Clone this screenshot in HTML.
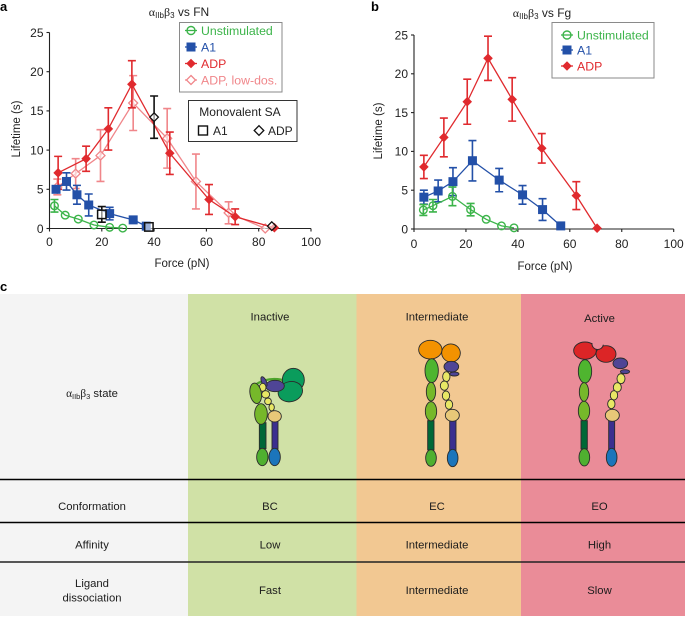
<!DOCTYPE html>
<html lang="en">
<head>
<meta charset="utf-8">
<title>Integrin lifetime charts</title>
<style>
html,body{margin:0;padding:0;background:#fff;width:685px;height:617px;overflow:hidden}
svg{display:block;font-family:"Liberation Sans",sans-serif;filter:blur(.35px)}
text{fill:#222}
.tick{font-size:12px}
.axt{font-size:11.5px}
.leg{font-size:12.3px}
.tb{font-size:11.3px;text-anchor:middle;dominant-baseline:central;fill:#1c1c1c}
.p{font-size:13px;font-weight:bold;fill:#000}
.s{stroke:#2b2b2b;stroke-width:2.7}
</style>
</head>
<body>
<svg id="fig" xmlns="http://www.w3.org/2000/svg" width="685" height="617" viewBox="0 0 685 617">
  <text class="p" x="0" y="11">a</text>
  <text class="p" x="371" y="11">b</text>
  <text class="p" x="0" y="291">c</text>

  <g id="table">
    <rect x="0" y="294" width="188" height="322" fill="#f4f4f4"/>
    <rect x="188" y="294" width="168.500" height="322" fill="#d0e1a6"/>
    <rect x="356.500" y="294" width="164.500" height="322" fill="#f2c892"/>
    <rect x="521" y="294" width="164" height="322" fill="#ea8c98"/>
    <line x1="0" x2="685" y1="479.500" y2="479.500" stroke="#000" stroke-width="1.500"/>
    <line x1="0" x2="685" y1="522.500" y2="522.500" stroke="#000" stroke-width="1.500"/>
    <line x1="0" x2="685" y1="562" y2="562" stroke="#222" stroke-width="1.500"/>

    <text class="tb" x="270" y="317.500">Inactive</text>
    <text class="tb" x="437" y="317.500">Intermediate</text>
    <text class="tb" x="599.500" y="319">Active</text>

    <text class="tb" x="92" y="394"><tspan font-family="Liberation Serif, serif">α</tspan><tspan font-size="7.500" dy="2">IIb</tspan><tspan font-family="Liberation Serif, serif" dy="-2">β</tspan><tspan font-size="7.500" dy="2">3</tspan><tspan dy="-2"> state</tspan></text>

    <text class="tb" x="92" y="507">Conformation</text>
    <text class="tb" x="270" y="507">BC</text>
    <text class="tb" x="437" y="507">EC</text>
    <text class="tb" x="599.500" y="507">EO</text>

    <text class="tb" x="92" y="545.500">Affinity</text>
    <text class="tb" x="270" y="545.500">Low</text>
    <text class="tb" x="437" y="545.500">Intermediate</text>
    <text class="tb" x="599.500" y="545.500">High</text>

    <text class="tb" x="92" y="584">Ligand</text>
    <text class="tb" x="92" y="598.500">dissociation</text>
    <text class="tb" x="270" y="591">Fast</text>
    <text class="tb" x="437" y="591">Intermediate</text>
    <text class="tb" x="599.500" y="591">Slow</text>
  </g>

  <g class="s" transform="translate(220 330) scale(.3333)">
    <path d="M105 165Q150 135 205 155" fill="none" stroke="#4fa52c" style="stroke-width:7"/>
    <ellipse cx="220" cy="150" rx="33" ry="35" fill="#0a9c5c"/>
    <ellipse cx="211" cy="185" rx="37" ry="30" fill="#0a9c5c" transform="rotate(-15 211 185)"/>
    <ellipse cx="165" cy="168" rx="28" ry="17" fill="#4f4596"/>
    <ellipse cx="132" cy="155" rx="7" ry="16" fill="#4f4596" transform="rotate(-25 132 155)"/>
    <ellipse cx="128" cy="172" rx="10" ry="12" fill="#e8e765"/>
    <ellipse cx="137" cy="193" rx="12" ry="11" fill="#e8e765"/>
    <ellipse cx="144" cy="214" rx="10" ry="10" fill="#e8e765"/>
    <ellipse cx="155" cy="232" rx="8" ry="11" fill="#e8e765"/>
    <ellipse cx="107" cy="190" rx="17" ry="31" fill="#76b82a" transform="rotate(-10 107 190)"/>
    <rect x="118" y="278" width="20" height="78" fill="#006837"/>
    <rect x="156" y="272" width="18" height="85" fill="#3b2f8f"/>
    <ellipse cx="123" cy="252" rx="19" ry="31" fill="#76b82a"/>
    <ellipse cx="164" cy="259" rx="20" ry="17" fill="#e8c878"/>
    <ellipse cx="127" cy="381" rx="17" ry="26" fill="#4fb030"/>
    <ellipse cx="164" cy="381" rx="17" ry="26" fill="#1b75bb"/>
  </g>

  <g class="s" transform="translate(400 330) scale(.3333)">
    <rect x="83" y="272" width="19" height="88" fill="#006837"/>
    <rect x="149" y="272" width="19" height="90" fill="#3b2f8f"/>
    <ellipse cx="91" cy="59" rx="35" ry="28" fill="#f39200"/>
    <ellipse cx="153" cy="69" rx="28" ry="27" fill="#f39200" transform="rotate(15 153 69)"/>
    <ellipse cx="95" cy="122" rx="20" ry="36" fill="#4fb52f"/>
    <ellipse cx="93" cy="185" rx="14" ry="28" fill="#76b82a"/>
    <ellipse cx="93" cy="244" rx="17" ry="29" fill="#76b82a"/>
    <ellipse cx="93" cy="384" rx="16" ry="25" fill="#4fb030"/>
    <ellipse cx="163" cy="132" rx="14" ry="6" fill="#4f4596"/>
    <ellipse cx="154" cy="110" rx="22" ry="16" fill="#4f4596"/>
    <ellipse cx="139" cy="140" rx="11" ry="15" fill="#e8e765"/>
    <ellipse cx="133" cy="167" rx="12" ry="14" fill="#e8e765"/>
    <ellipse cx="138" cy="197" rx="11" ry="14" fill="#e8e765"/>
    <ellipse cx="147" cy="224" rx="11" ry="14" fill="#e8e765"/>
    <ellipse cx="157" cy="256" rx="21" ry="18" fill="#e8c878"/>
    <ellipse cx="158" cy="384" rx="16" ry="26" fill="#1b75bb"/>
  </g>

  <g class="s" transform="translate(560 330) scale(.3333)">
    <rect x="63" y="272" width="19" height="85" fill="#006837"/>
    <rect x="146" y="272" width="18" height="90" fill="#3b2f8f"/>
    <ellipse cx="75" cy="62" rx="34" ry="26" fill="#dc2526"/>
    <ellipse cx="138" cy="72" rx="30" ry="25" fill="#dc2526"/>
    <circle cx="113" cy="40" r="17" fill="#ea8c98" style="stroke:none"/>
    <path d="M96 39A17 17 0 0 0 130 44" fill="none"/>
    <ellipse cx="75" cy="124" rx="20" ry="35" fill="#4fb52f"/>
    <ellipse cx="72" cy="186" rx="14" ry="28" fill="#76b82a"/>
    <ellipse cx="72" cy="243" rx="17" ry="29" fill="#76b82a"/>
    <ellipse cx="73" cy="382" rx="16" ry="26" fill="#4fb030"/>
    <ellipse cx="195" cy="125" rx="14" ry="6" fill="#4f4596"/>
    <ellipse cx="181" cy="100" rx="22" ry="16" fill="#4f4596"/>
    <ellipse cx="183" cy="146" rx="12" ry="15" fill="#e8e765"/>
    <ellipse cx="172" cy="172" rx="12" ry="14" fill="#e8e765"/>
    <ellipse cx="162" cy="196" rx="11" ry="14" fill="#e8e765"/>
    <ellipse cx="154" cy="222" rx="11" ry="14" fill="#e8e765"/>
    <ellipse cx="157" cy="256" rx="21" ry="18" fill="#e8c878"/>
    <ellipse cx="155" cy="382" rx="16" ry="27" fill="#1b75bb"/>
  </g>

  <g id="chartA">
    <text x="179" y="16" font-size="12" text-anchor="middle"><tspan font-family="Liberation Serif, serif">α</tspan><tspan font-size="8" dy="2">IIb</tspan><tspan font-family="Liberation Serif, serif" dy="-2">β</tspan><tspan font-size="8" dy="2">3</tspan><tspan dy="-2"> vs FN</tspan></text>
    <text class="axt" x="182" y="267" text-anchor="middle">Force (pN)</text>
    <text class="axt" x="0" y="0" text-anchor="middle" transform="translate(20 129) rotate(-90)">Lifetime (s)</text>
  </g>
  <g id="chartB">
    <text x="542" y="17" font-size="12" text-anchor="middle"><tspan font-family="Liberation Serif, serif">α</tspan><tspan font-size="8" dy="2">IIb</tspan><tspan font-family="Liberation Serif, serif" dy="-2">β</tspan><tspan font-size="8" dy="2">3</tspan><tspan dy="-2"> vs Fg</tspan></text>
    <text class="axt" x="545" y="270" text-anchor="middle">Force (pN)</text>
    <text class="axt" x="0" y="0" text-anchor="middle" transform="translate(382 131) rotate(-90)">Lifetime (s)</text>
  </g>

  <g id="legendA">
    <rect x="179.500" y="22.500" width="102.500" height="69.500" fill="#fff" stroke="#8a8a8a" stroke-width="1"/>
    <g><line x1="185" x2="197" y1="30.500" y2="30.500" stroke="#3cb44a" stroke-width="1.300"/><circle cx="191" cy="30.500" r="4" fill="none" stroke="#3cb44a" stroke-width="1.400"/><text class="leg" x="201" y="35" style="fill:#3cb44a">Unstimulated</text></g>
    <g><line x1="185" x2="197" y1="47" y2="47" stroke="#2350a8" stroke-width="1.300"/><rect x="186.500" y="42.500" width="9" height="9" fill="#2350a8"/><text class="leg" x="201" y="51.500" style="fill:#2350a8">A1</text></g>
    <g><line x1="185" x2="197" y1="63.500" y2="63.500" stroke="#e02a2e" stroke-width="1.300"/><path d="M191 58.700l4.800 4.800l-4.800 4.800l-4.800-4.800z" fill="#e02a2e"/><text class="leg" x="201" y="68" style="fill:#e02a2e">ADP</text></g>
    <g><line x1="185" x2="197" y1="80" y2="80" stroke="#f0868a" stroke-width="1.300"/><path d="M191 75.500l4.500 4.500l-4.500 4.500l-4.500-4.500z" fill="#fff" stroke="#f0868a" stroke-width="1.300"/><text class="leg" x="201" y="84.500" style="fill:#f0868a">ADP, low-dos.</text></g>
  </g>

  <g id="legendB">
    <rect x="552" y="22.500" width="102" height="55.500" fill="#fff" stroke="#8a8a8a" stroke-width="1"/>
    <g><line x1="561" x2="573" y1="35" y2="35" stroke="#3cb44a" stroke-width="1.300"/><circle cx="567" cy="35" r="4" fill="none" stroke="#3cb44a" stroke-width="1.400"/><text class="leg" x="577" y="39.500" style="fill:#3cb44a">Unstimulated</text></g>
    <g><line x1="561" x2="573" y1="50" y2="50" stroke="#2350a8" stroke-width="1.300"/><rect x="562.500" y="45.500" width="9" height="9" fill="#2350a8"/><text class="leg" x="577" y="54.500" style="fill:#2350a8">A1</text></g>
    <g><line x1="561" x2="573" y1="66" y2="66" stroke="#e02a2e" stroke-width="1.300"/><path d="M567 61.200l4.800 4.800l-4.800 4.800l-4.800-4.800z" fill="#e02a2e"/><text class="leg" x="577" y="70.500" style="fill:#e02a2e">ADP</text></g>
  </g>

  <g id="monoLegend">
    <rect x="188.500" y="100.500" width="108.500" height="41" fill="#fff" stroke="#333" stroke-width="1"/>
    <text x="240" y="116" font-size="12" text-anchor="middle">Monovalent SA</text>
    <rect x="198.500" y="126" width="9" height="9" fill="#fff" stroke="#111" stroke-width="1.400"/>
    <text x="213" y="135" font-size="12">A1</text>
    <path d="M259 125.700l4.800 4.800l-4.800 4.800l-4.800-4.800z" fill="#fff" stroke="#111" stroke-width="1.300"/>
    <text x="268" y="135" font-size="12">ADP</text>
  </g>
</svg>
<script>
// Shared axis ticks
const xTicksA = [0, 20, 40, 60, 80, 100];
const xTicksB = [0, 20, 40, 60, 80, 100];
const yTicks = [0, 5, 10, 15, 20, 25];

// Chart a (FN)
const aUnstimForce = [1.9, 6, 11, 17, 23, 28];
const aUnstimLife = [2.9, 1.7, 1.2, 0.45, 0.15, 0.05];
const aUnstimErr = [0.8, 0, 0, 0, 0, 0];
const aA1Force = [2.5, 6.5, 10.5, 15, 23, 32, 37];
const aA1Life = [5.0, 6.0, 4.3, 3.0, 1.9, 1.1, 0.3];
const aA1Err = [0, 1.1, 1.2, 1.4, 0.8, 0.3, 0.2];
const aAdpForce = [3.3, 14, 22.5, 31.5, 46, 61, 71, 86];
const aAdpLife = [7.1, 8.9, 12.7, 18.4, 9.6, 3.7, 1.5, 0.1];
const aAdpErr = [2.1, 1.6, 2.7, 3.0, 2.7, 1.9, 1.0, 0];
const aLowForce = [3, 10, 19.5, 32, 45, 56, 68.5, 82.5];
const aLowLife = [5.3, 7.0, 9.3, 16.0, 11.5, 6.0, 2.0, 0];
const aLowErr = [1.0, 1.9, 3.3, 3.5, 3.8, 3.5, 1.4, 0];
const aMonoA1Force = [20, 38];
const aMonoA1Life = [1.8, 0.2];
const aMonoA1Err = [1.0, 0];
const aMonoAdpForce = [40, 85];
const aMonoAdpLife = [14.2, 0.3];
const aMonoAdpErr = [2.7, 0];

// Chart b (Fg)
const bUnstimForce = [3.6, 7.3, 14.8, 21.8, 27.8, 33.7, 38.5];
const bUnstimLife = [2.45, 3.0, 4.2, 2.5, 1.25, 0.4, 0.15];
const bUnstimErr = [0.7, 0.8, 1.2, 0.8, 0, 0, 0];
const bA1Force = [3.8, 9.3, 15, 22.5, 32.8, 41.8, 49.5, 56.5];
const bA1Life = [4.1, 4.9, 6.1, 8.8, 6.3, 4.4, 2.5, 0.4];
const bA1Err = [0.9, 1.4, 1.8, 2.6, 1.5, 1.2, 1.4, 0];
const bAdpForce = [3.8, 11.5, 20.5, 28.5, 37.8, 49.2, 62.5, 70.5];
const bAdpLife = [8.0, 11.8, 16.4, 22.0, 16.7, 10.4, 4.3, 0.1];
const bAdpErr = [1.5, 2.5, 2.9, 2.85, 2.8, 1.9, 1.8, 0];

const NS = 'http://www.w3.org/2000/svg';
const GREEN = '#3cb44a', BLUE = '#2350a8', RED = '#e02a2e', PINK = '#f0868a', BLACK = '#111';

function xA(v) { return 49.5 + v * 2.615; }
function yA(v) { return 228.5 - v * 7.84; }
function xB(v) { return 414 + v * 2.597; }
function yB(v) { return 229 - v * 7.76; }

function mk(tag, attrs, parent) {
  const el = document.createElementNS(NS, tag);
  for (const k in attrs) el.setAttribute(k, attrs[k]);
  parent.appendChild(el);
  return el;
}

function drawAxes(root, X, Y, xTicks, xMax, labelY) {
  const axis = mk('g', { stroke: '#222', 'stroke-width': 1.1, fill: 'none' }, root);
  
  
  const xLine = mk('line', { x1: X(0), x2: X(xMax), y1: Y(0), y2: Y(0) }, axis);
  
  
  const yLine = mk('line', { x1: X(0), x2: X(0), y1: Y(0), y2: Y(25) }, axis);
  
  
  xTicks.forEach(function (t) {
    const tick = mk('line', { x1: X(t), x2: X(t), y1: Y(0), y2: Y(0) + 3 }, axis);
    
    
    const lab = mk('text', { class: 'tick', x: X(t), y: labelY, 'text-anchor': 'middle', stroke: 'none' }, root);
    lab.textContent = t;
    
    
  });
  yTicks.forEach(function (t) {
    const tick = mk('line', { x1: X(0) - 3, x2: X(0), y1: Y(t), y2: Y(t) }, axis);
    
    
    const lab = mk('text', { class: 'tick', x: X(0) - 6, y: Y(t) + 4.3, 'text-anchor': 'end', stroke: 'none' }, root);
    lab.textContent = t;
    
    
  });
}

function drawSeries(root, X, Y, force, life, err, color, marker, size, name, connect) {
  const g = mk('g', {}, root);
  
  
  if (connect) {
    const pts = force.map(function (f, i) { return X(f) + ',' + Y(life[i]); }).join(' ');
    const line = mk('polyline', { points: pts, fill: 'none', stroke: color, 'stroke-width': 1.3 }, g);
    
    
  }
  force.forEach(function (f, i) {
    if (!err[i]) return;
    const x = X(f), hi = Y(life[i] + err[i]), lo = Y(Math.max(0, life[i] - err[i]));
    const d = 'M' + x + ' ' + hi + 'V' + lo + 'M' + (x - 4) + ' ' + hi + 'H' + (x + 4) + 'M' + (x - 4) + ' ' + lo + 'H' + (x + 4);
    const bar = mk('path', { d: d, fill: 'none', stroke: color, 'stroke-width': 1.6 }, g);
    
    
  });
  force.forEach(function (f, i) {
    const x = X(f), y = Y(life[i]);
    let el;
    if (marker === 'circle') {
      el = mk('circle', { cx: x, cy: y, r: size, fill: 'none', stroke: color, 'stroke-width': 1.4 }, g);
    } else if (marker === 'square') {
      el = mk('rect', { x: x - size, y: y - size, width: size * 2, height: size * 2, fill: color }, g);
    } else if (marker === 'openSquare') {
      el = mk('rect', { x: x - size, y: y - size, width: size * 2, height: size * 2, fill: '#fff', 'fill-opacity': 0.55, stroke: color, 'stroke-width': 1.5 }, g);
    } else {
      const d = 'M' + x + ' ' + (y - size) + 'L' + (x + size) + ' ' + y + 'L' + x + ' ' + (y + size) + 'L' + (x - size) + ' ' + y + 'Z';
      const open = marker === 'openDiamond';
      el = mk('path', { d: d, fill: open ? '#fff' : color, 'fill-opacity': open ? 0.6 : 1, stroke: open ? color : 'none', 'stroke-width': 1.3 }, g);
    }
    
    
  });
}

const rootA = document.getElementById('chartA');
const rootB = document.getElementById('chartB');

drawAxes(rootA, xA, yA, xTicksA, 100, 246);
drawSeries(rootA, xA, yA, aLowForce, aLowLife, aLowErr, PINK, 'openDiamond', 4.5, 'a-adp-low-dose', true);
drawSeries(rootA, xA, yA, aAdpForce, aAdpLife, aAdpErr, RED, 'diamond', 4.8, 'a-adp', true);
drawSeries(rootA, xA, yA, aUnstimForce, aUnstimLife, aUnstimErr, GREEN, 'circle', 3.8, 'a-unstimulated', true);
drawSeries(rootA, xA, yA, aA1Force, aA1Life, aA1Err, BLUE, 'square', 4.5, 'a-a1', true);
drawSeries(rootA, xA, yA, aMonoA1Force, aMonoA1Life, aMonoA1Err, BLACK, 'openSquare', 4.2, 'a-monovalent-a1', false);
drawSeries(rootA, xA, yA, aMonoAdpForce, aMonoAdpLife, aMonoAdpErr, BLACK, 'openDiamond', 4.3, 'a-monovalent-adp', false);

drawAxes(rootB, xB, yB, xTicksB, 100, 248);
drawSeries(rootB, xB, yB, bAdpForce, bAdpLife, bAdpErr, RED, 'diamond', 4.8, 'b-adp', true);
drawSeries(rootB, xB, yB, bA1Force, bA1Life, bA1Err, BLUE, 'square', 4.5, 'b-a1', true);
drawSeries(rootB, xB, yB, bUnstimForce, bUnstimLife, bUnstimErr, GREEN, 'circle', 3.8, 'b-unstimulated', true);

// legends stay above plotted data
const fig = document.getElementById('fig');
fig.appendChild(document.getElementById('legendA'));
fig.appendChild(document.getElementById('legendB'));
fig.appendChild(document.getElementById('monoLegend'));
</script>
</body>
</html>
